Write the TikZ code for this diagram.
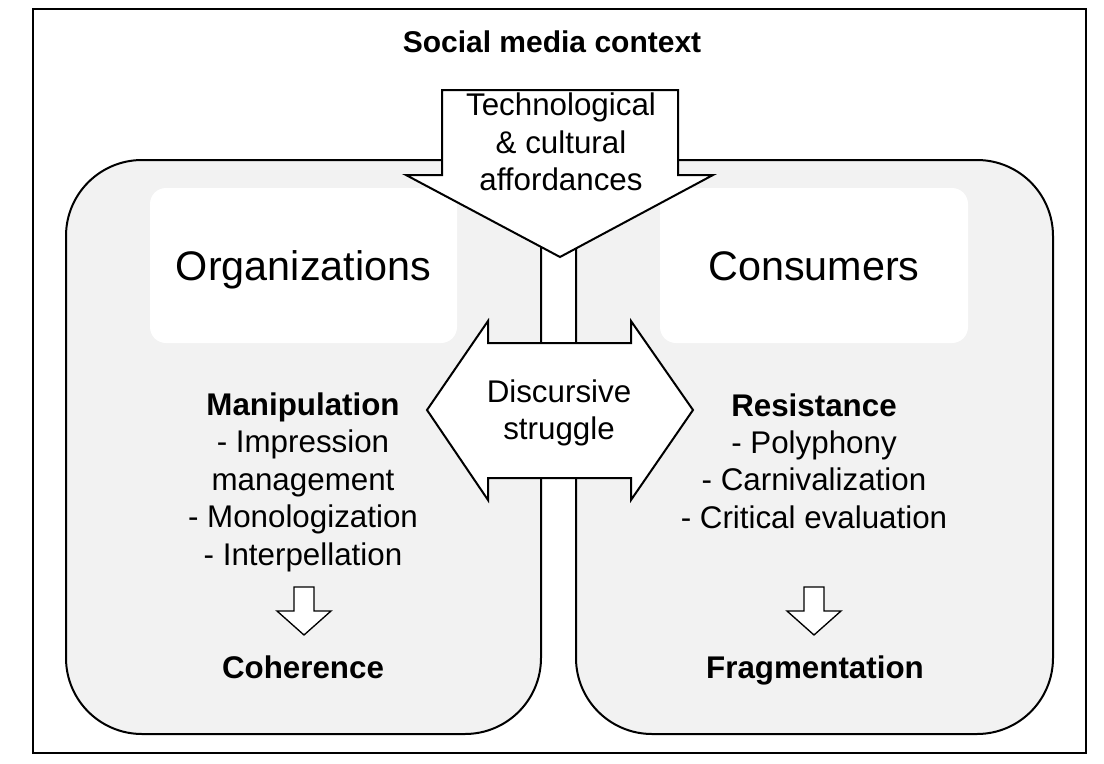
\documentclass[tikz,border=0pt]{standalone}
\usepackage{fontspec}
\setmainfont{Liberation Sans}
\definecolor{panelgray}{HTML}{F2F2F2}
\begin{document}
\begin{tikzpicture}[x=0.75pt,y=-0.75pt,
  frame/.style={draw=black,line width=1.5pt},
  panel/.style={draw=black,line width=1.5pt,fill=panelgray,rounded corners=57pt},
  titlebox/.style={fill=white,rounded corners=12pt},
  blockarrow/.style={draw=black,line width=1.5pt,fill=white,line join=miter},
  smallarrow/.style={draw=black,line width=1pt,fill=white,line join=miter},
  txt/.style={font=\fontsize{23.5}{28.1}\selectfont,align=center,inner sep=0pt},
  boldtxt/.style={txt,font=\bfseries\fontsize{23.5}{28.1}\selectfont},
  headtxt/.style={font=\bfseries\fontsize{22.5}{28.1}\selectfont,inner sep=0pt},
  bigtxt/.style={font=\fontsize{31}{37}\selectfont,inner sep=0pt}]
\useasboundingbox (0,0) rectangle (1104,764);
% outer frame
\draw[frame] (33,9) rectangle (1086,753);
% panels
\draw[panel] (66,160) rectangle (541,734);
\draw[panel] (576,160) rectangle (1053,734);
\fill[titlebox] (150,188) rectangle (457,343);
\fill[titlebox] (660,188) rectangle (968,343);
% down arrow
\draw[blockarrow] (442,90) -- (678,90) -- (678,175) -- (713,175) -- (560,257)
  -- (406,175) -- (442,175) -- cycle;
% double arrow
\draw[blockarrow] (427,410) -- (488,321) -- (488,343) -- (631,343) -- (631,321)
  -- (693,410) -- (631,500) -- (631,478) -- (488,478) -- (488,500) -- cycle;
% small arrows
\draw[smallarrow] (294,587) -- (314,587) -- (314,611) -- (331,611) -- (304,635)
  -- (277,611) -- (294,611) -- cycle;
\draw[smallarrow] (804,587) -- (824,587) -- (824,611) -- (841,611) -- (814,635)
  -- (787,611) -- (804,611) -- cycle;
% texts
\node[headtxt,anchor=base] (title) at (552,52) {Social media context};
\node[txt] (afford) at (561,142) {Technological\\\& cultural\\affordances};
\node[bigtxt,anchor=base] (org) at (303.5,280) {Organizations};
\node[bigtxt,anchor=base] (cons) at (814,280) {Consumers};
\node[txt] (struggle) at (559,413) {Discursive\\struggle};
\node[txt] (manip) at (303,482) {\textbf{Manipulation}\\- Impression\\management\\- Monologization\\- Interpellation};
\node[txt] (resist) at (814,461) {\textbf{Resistance}\\- Polyphony\\- Carnivalization\\- Critical evaluation};
\node[boldtxt,anchor=base] (coh) at (303,678) {Coherence};
\node[boldtxt,anchor=base] (frag) at (815,678) {Fragmentation};
\end{tikzpicture}
\end{document}
